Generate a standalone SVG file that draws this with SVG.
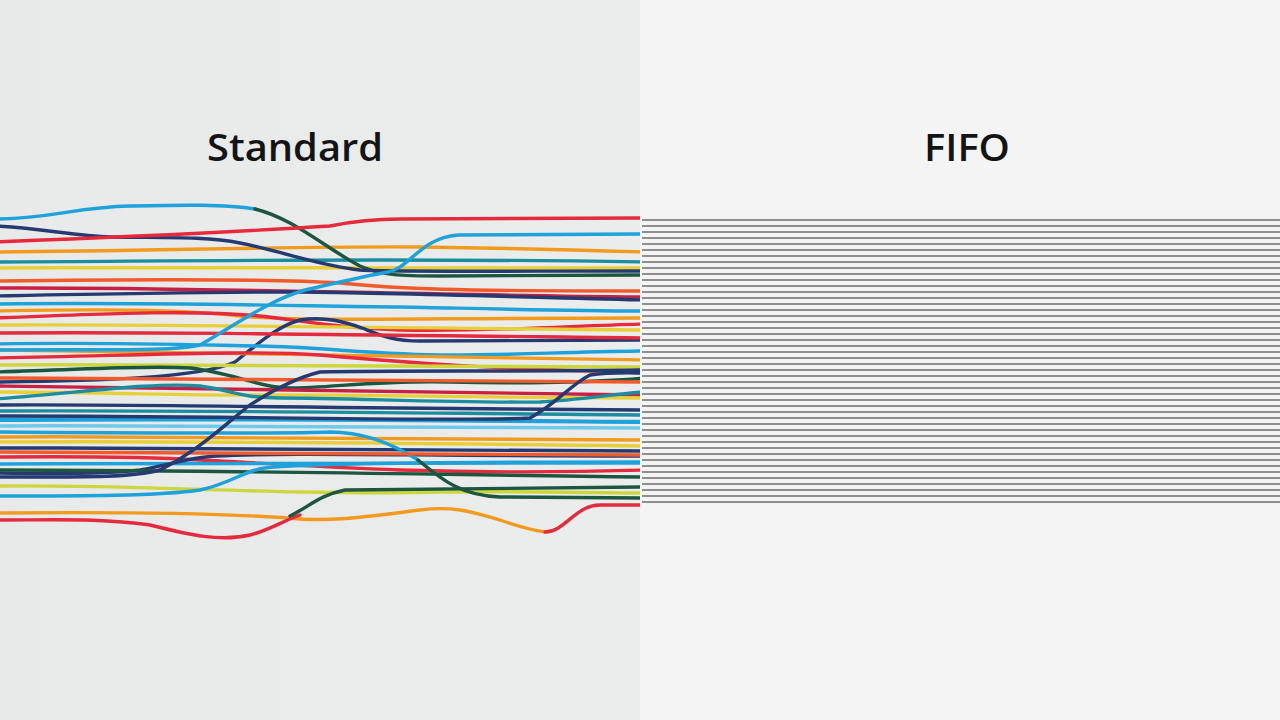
<svg xmlns="http://www.w3.org/2000/svg" width="1280" height="720" viewBox="0 0 1280 720">
<defs>
<clipPath id="leftClip"><rect x="0" y="0" width="640" height="720"/></clipPath>
<linearGradient id="bgL" x1="0" y1="0" x2="1" y2="0"><stop offset="0" stop-color="#e8eaea"/><stop offset="1" stop-color="#ebeded"/></linearGradient>
<style>
.w{fill:none;stroke-width:3.4;stroke-linecap:round;stroke-linejoin:round}
.R{stroke:#e42a3c}.B{stroke:#1fa2da}.G{stroke:#1d5640}.O{stroke:#f29a1e}.Y{stroke:#e8cf3a}.N{stroke:#243a70}.T{stroke:#1b8d9e}.C{stroke:#c81f45}.OR{stroke:#f15a2a}.YG{stroke:#cdd63c}.LB{stroke:#6fc9ea}
.g{stroke:#6c6c6c;stroke-width:1.5;fill:none}
.title{font-family:"Open Sans","Noto Sans","Liberation Sans",sans-serif;font-size:38px;font-weight:600;fill:#141414}
</style>
</defs>
<rect x="0" y="0" width="640" height="720" fill="url(#bgL)"/>
<rect x="640" y="0" width="640" height="720" fill="#f4f4f4"/>
<g id="title-standard"><text class="title" x="295" y="161" text-anchor="middle" textLength="176" lengthAdjust="spacingAndGlyphs">Standard</text></g>
<g id="title-fifo"><text class="title" x="967" y="161" text-anchor="middle" textLength="86" lengthAdjust="spacingAndGlyphs">FIFO</text></g>
<g id="standard-wires" clip-path="url(#leftClip)">
<path class="w O" d="M-5,252 C150,251 300,246 420,247 C500,248 580,250 645,252"/>
<path class="w T" d="M-5,262 C200,261 400,258 645,262"/>
<path class="w Y" d="M-5,268 C200,267 400,266 645,268"/>
<path class="w OR" d="M-5,281 C150,279 280,279 340,283 C400,289 450,291 645,291"/>
<path class="w C" d="M-5,288 C200,287 420,295 645,297"/>
<path class="w N" d="M-5,296 C100,294 200,292 300,292 C400,293 520,297 645,300"/>
<path class="w B" d="M-5,304 C150,302 300,306 400,307 C500,309 580,311 645,311"/>
<path class="w O" d="M-5,311 C100,309 180,309 240,316 C300,322 420,318 645,318"/>
<path class="w R" d="M-5,318 C120,313 200,310 260,316 C310,322 340,328 400,330 C500,332 580,325 645,324"/>
<path class="w Y" d="M-5,325 C150,324 300,327 645,330"/>
<path class="w N" d="M-5,382 C100,381 200,378 235,362 C260,342 278,326 300,320 C325,316 345,322 362,328 C380,335 392,341 420,341 L645,340"/>
<path class="w R" d="M-5,333 C150,332 300,334 645,338"/>
<path class="w B" d="M-5,344 C100,342 200,345 260,346 C320,347 380,355 450,355 C520,355 560,352 645,351"/>
<path class="w O" d="M-5,350 C200,352 400,358 645,360"/>
<path class="w R" d="M-5,358 C150,355 250,350 320,355 C400,362 500,370 645,372"/>
<path class="w YG" d="M-5,365 C200,364 400,366 645,367"/>
<path class="w G" d="M-5,372 C80,370 140,365 190,368 C230,372 260,388 290,388 C330,388 380,380 450,382 C520,384 600,382 645,378"/>
<path class="w OR" d="M-5,378 C150,377 300,380 645,382"/>
<path class="w C" d="M-5,386 C150,387 300,392 645,395"/>
<path class="w Y" d="M-5,392 C100,392 200,396 260,395 C330,394 400,397 645,398"/>
<path class="w T" d="M-5,399 C80,393 150,382 200,386 C230,390 240,398 280,398 C350,398 450,403 540,402 C580,400 620,393 645,392"/>
<path class="w N" d="M-5,405 C150,404 300,408 645,410"/>
<path class="w T" d="M-5,411 C200,410 400,413 645,415"/>
<path class="w B" style="stroke-width:4.2" d="M-5,420 C200,418 400,420 645,422"/>
<path class="w LB" d="M-5,426 C200,425 400,428 645,428"/>
<path class="w O" d="M-5,437 C200,436 400,438 645,440"/>
<path class="w Y" d="M-5,442 C200,441 400,443 645,446"/>
<path class="w N" d="M-5,448 C200,448 400,450 645,451"/>
<path class="w R" d="M-5,457 C100,456 150,457 200,460 C260,463 320,467 400,470 C500,473 580,472 645,470"/>
<path class="w B" d="M-5,464 C200,463 400,463 645,463"/>
<path class="w N" d="M-5,473 C60,474 110,474 140,470 C170,465 185,458 215,456 C300,452 400,456 645,456"/>
<path class="w G" d="M-5,470 C200,470 400,474 645,477"/>
<path class="w YG" d="M-5,486 C100,485 200,490 300,492 C360,493 400,493 440,492 C520,491 600,493 645,493"/>
<path class="w B" d="M-5,496 C80,496 160,496 200,490 C230,484 245,470 265,468 C300,464 400,462 645,462"/>
<path class="w B" d="M-5,432 C150,433 280,434 330,432 C360,432 390,442 418,460"/>
<path class="w G" d="M418,460 C440,478 460,496 500,497 L645,498"/>
<path class="w O" d="M-5,513 C100,512 200,512 290,518 C330,523 380,515 420,510 C460,505 480,515 500,520 C520,527 530,530 545,532"/>
<path class="w R" d="M545,532 C565,532 575,505 600,505 L645,505"/>
<path class="w R" d="M-5,520 C60,520 100,518 150,525 C190,535 220,542 250,535 C270,530 285,520 300,515"/>
<path class="w G" d="M290,516 C310,506 320,495 345,490 L645,487"/>
<path class="w OR" d="M-5,452 C200,451 420,453 645,455"/>
<path class="w B" d="M-5,219 C50,219 75,207 130,206 C180,205 225,204 255,209"/>
<path class="w G" d="M255,209 C295,219 325,248 360,266 C380,275 400,276 440,276 L645,275"/>
<path class="w N" d="M-5,226 C40,228 75,236 110,237 C160,238 205,236 240,243 C285,252 320,266 360,270 C400,272 500,271 645,271"/>
<path class="w R" d="M-5,242 C100,238 250,231 330,226 C350,222 370,219 400,219 L645,218"/>
<path class="w B" d="M-5,350 C100,349 170,352 200,345 C240,322 270,300 305,290 C340,282 365,276 388,272 C410,268 420,238 458,235 L645,234"/>
<path class="w N" d="M-5,477 C80,477 130,478 160,470 C200,450 230,420 250,405 C270,392 295,378 320,372 C400,370 500,372 645,370"/>
<path class="w N" d="M-5,416 C250,416 470,422 530,418 C555,405 570,385 590,375 C610,372 630,373 645,373"/>
</g>
<g id="fifo-wires">
<path class="g" d="M642,220H1280M642,226H1280M642,232H1280M642,238H1280M642,244H1280M642,250H1280M642,256H1280M642,262H1280M642,268H1280M642,274H1280M642,280H1280M642,286H1280M642,292H1280M642,298H1280M642,304H1280M642,310H1280M642,316H1280M642,322H1280M642,328H1280M642,334H1280M642,340H1280M642,346H1280M642,352H1280M642,358H1280M642,364H1280M642,370H1280M642,376H1280M642,382H1280M642,388H1280M642,394H1280M642,400H1280M642,406H1280M642,412H1280M642,418H1280M642,424H1280M642,430H1280M642,436H1280M642,442H1280M642,448H1280M642,454H1280M642,460H1280M642,466H1280M642,472H1280M642,478H1280M642,484H1280M642,490H1280M642,496H1280M642,502H1280"/>
</g>
</svg>
